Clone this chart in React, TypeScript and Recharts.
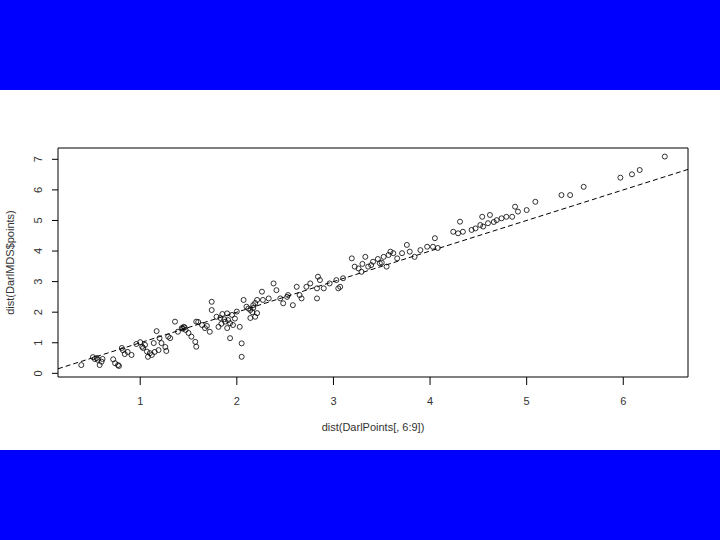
import React from "react";
import { ScatterChart, Scatter, XAxis, YAxis, ReferenceLine, ReferenceArea } from "recharts";

const xValues = [
  0.39, 0.51, 0.53, 0.55, 0.56, 0.58, 0.60, 0.61, 0.72, 0.74, 0.77, 0.78, 0.81, 0.82, 0.84, 0.87, 0.91, 0.96, 1.00, 1.02, 1.03, 1.05, 1.07, 1.08, 1.10, 1.15, 1.17, 1.20, 1.22, 1.26, 1.27, 1.29,
  1.14, 1.19, 1.12, 1.36, 1.31, 1.39, 1.43, 1.45, 1.50, 1.53, 1.57, 1.58, 1.58, 1.64, 1.67, 1.72, 1.74, 1.74, 1.79, 1.83, 1.88, 1.90, 1.93, 1.90, 1.95, 2.00, 2.03, 2.05, 2.05, 2.07, 2.10, 2.14, 2.17, 2.21, 2.14,
  1.47, 1.60, 1.85, 1.91, 1.96, 1.81,
  2.17, 2.21, 2.19, 2.26, 2.27, 2.33, 2.38, 2.41, 2.45, 2.48, 2.53, 2.58, 2.62, 2.65, 2.67, 2.72, 2.76, 2.83, 2.84, 2.86, 2.90, 2.83, 2.96, 3.07, 3.03, 3.10,
  3.05, 3.19, 3.22, 3.26, 3.29, 3.33, 3.36, 3.41, 3.48, 3.52, 3.55, 3.59, 3.62, 3.66, 3.71, 3.76, 3.79, 3.84, 3.90, 3.97, 4.03, 4.05, 3.46, 3.57, 3.30,
  4.31, 4.24, 4.29, 4.34, 4.43, 4.47, 4.54, 4.55, 4.62, 4.60, 4.69, 4.74, 4.79, 4.85, 4.88, 4.91, 5.00, 5.09,
  5.36, 5.45, 5.59, 5.97, 6.09, 6.17, 6.43, 4.08,
  1.44, 1.46, 1.84, 1.87, 1.93, 1.98, 2.12, 2.16, 2.19, 1.69, 2.52, 3.39, 3.50, 4.52, 4.66,
];

const yValues = [
  0.27, 0.53, 0.47, 0.50, 0.44, 0.27, 0.38, 0.47, 0.46, 0.33, 0.27, 0.24, 0.83, 0.76, 0.63, 0.70, 0.60, 0.96, 1.02, 0.87, 0.83, 0.93, 0.71, 0.54, 0.66, 0.70, 1.38, 1.15, 0.99, 0.86, 0.73, 1.20,
  0.99, 0.76, 0.60, 1.69, 1.15, 1.36, 1.48, 1.52, 1.32, 1.20, 1.03, 0.87, 1.69, 1.58, 1.48, 1.36, 2.07, 2.34, 1.85, 1.81, 1.69, 1.48, 1.15, 1.96, 1.91, 2.02, 1.52, 0.98, 0.54, 2.40, 2.18, 2.07, 2.23, 2.40, 1.81,
  1.42, 1.68, 1.94, 1.74, 1.58, 1.52,
  2.14, 1.97, 1.85, 2.67, 2.40, 2.45, 2.94, 2.72, 2.45, 2.29, 2.56, 2.23, 2.83, 2.56, 2.45, 2.83, 2.94, 2.78, 3.16, 3.05, 2.78, 2.45, 2.94, 2.83, 3.05, 3.11,
  2.78, 3.76, 3.49, 3.43, 3.32, 3.81, 3.49, 3.65, 3.60, 3.81, 3.49, 3.98, 3.93, 3.76, 3.93, 4.20, 3.98, 3.81, 4.03, 4.14, 4.14, 4.42, 3.74, 3.87, 3.58,
  4.96, 4.63, 4.58, 4.63, 4.69, 4.74, 5.12, 4.80, 5.18, 4.91, 5.01, 5.07, 5.12, 5.12, 5.45, 5.29, 5.34, 5.61,
  5.83, 5.83, 6.10, 6.40, 6.51, 6.65, 7.09, 4.10,
  1.46, 1.50, 1.62, 1.77, 1.64, 1.79, 2.12, 2.00, 2.30, 1.55, 2.50, 3.54, 3.62, 4.85, 4.95,
];

const xTicks = [1, 2, 3, 4, 5, 6];
const yTicks = [0, 1, 2, 3, 4, 5, 6, 7];
const xDomain = [0.149, 6.67];
const yDomain = [-0.12, 7.37];
// reference line y = intercept + slope * x
const lineIntercept = 0;
const lineSlope = 1;

const xTitle = "dist(DarlPoints[, 6:9])";
const yTitle = "dist(DarlMDS$points)";

const points = xValues.map((x, i) => ({ x, y: yValues[i] }));

const FONT = "'Liberation Sans', Arial, sans-serif";
const TEXT = "#333";

const Circle = (props: any) => (
  <circle cx={props.cx} cy={props.cy} r={2.5} fill="none" stroke="#000" strokeWidth={0.8} />
);

const YTick = (props: any) => {
  const { x, y, payload } = props;
  return (
    <text
      x={x}
      y={y}
      transform={`rotate(-90, ${x}, ${y})`}
      textAnchor="middle"
      fontSize={11}
      fontFamily={FONT}
      fill={TEXT}
    >
      {payload.value}
    </text>
  );
};

export default function App() {
  return (
    <div style={{ position: "absolute", left: 0, top: 0, width: 720, height: 540, background: "#fff" }}>
      <div style={{ position: "absolute", left: 0, top: 0, width: 720, height: 90, background: "#0000ff" }} />
      <div style={{ position: "absolute", left: 0, top: 450, width: 720, height: 90, background: "#0000ff" }} />
      <div style={{ position: "absolute", left: 0, top: 0 }}>
        <ScatterChart width={720} height={540} margin={{ top: 148, right: 32, bottom: 103, left: 0 }}>
          <XAxis
            type="number"
            dataKey="x"
            domain={xDomain}
            ticks={xTicks}
            allowDataOverflow
            axisLine={false}
            tickSize={8}
            tickMargin={12}
            tickLine={{ stroke: "#000" }}
            tick={{ fontSize: 11, fontFamily: FONT, fill: TEXT }}
            height={60}
            label={{ value: xTitle, position: "insideBottom", offset: 6, fontSize: 11, fontFamily: FONT, fill: TEXT }}
          />
          <YAxis
            type="number"
            dataKey="y"
            domain={yDomain}
            ticks={yTicks}
            allowDataOverflow
            axisLine={false}
            tickSize={6}
            tickMargin={10}
            tickLine={{ stroke: "#000" }}
            tick={<YTick />}
            width={58}
            label={{ value: yTitle, angle: -90, position: "insideLeft", offset: 10, fontSize: 11, fontFamily: FONT, fill: TEXT, style: { textAnchor: "middle" } }}
          />
          <ReferenceArea
            x1={xDomain[0]}
            x2={xDomain[1]}
            y1={yDomain[0]}
            y2={yDomain[1]}
            fill="none"
            fillOpacity={0}
            stroke="#000"
            strokeWidth={1}
          />
          <ReferenceLine
            segment={[
              { x: xDomain[0], y: lineIntercept + lineSlope * xDomain[0] },
              { x: xDomain[1], y: lineIntercept + lineSlope * xDomain[1] },
            ]}
            stroke="#000"
            strokeWidth={1}
            strokeDasharray="5 3"
            ifOverflow="hidden"
          />
          <Scatter data={points} shape={<Circle />} isAnimationActive={false} />
        </ScatterChart>
      </div>
    </div>
  );
}
